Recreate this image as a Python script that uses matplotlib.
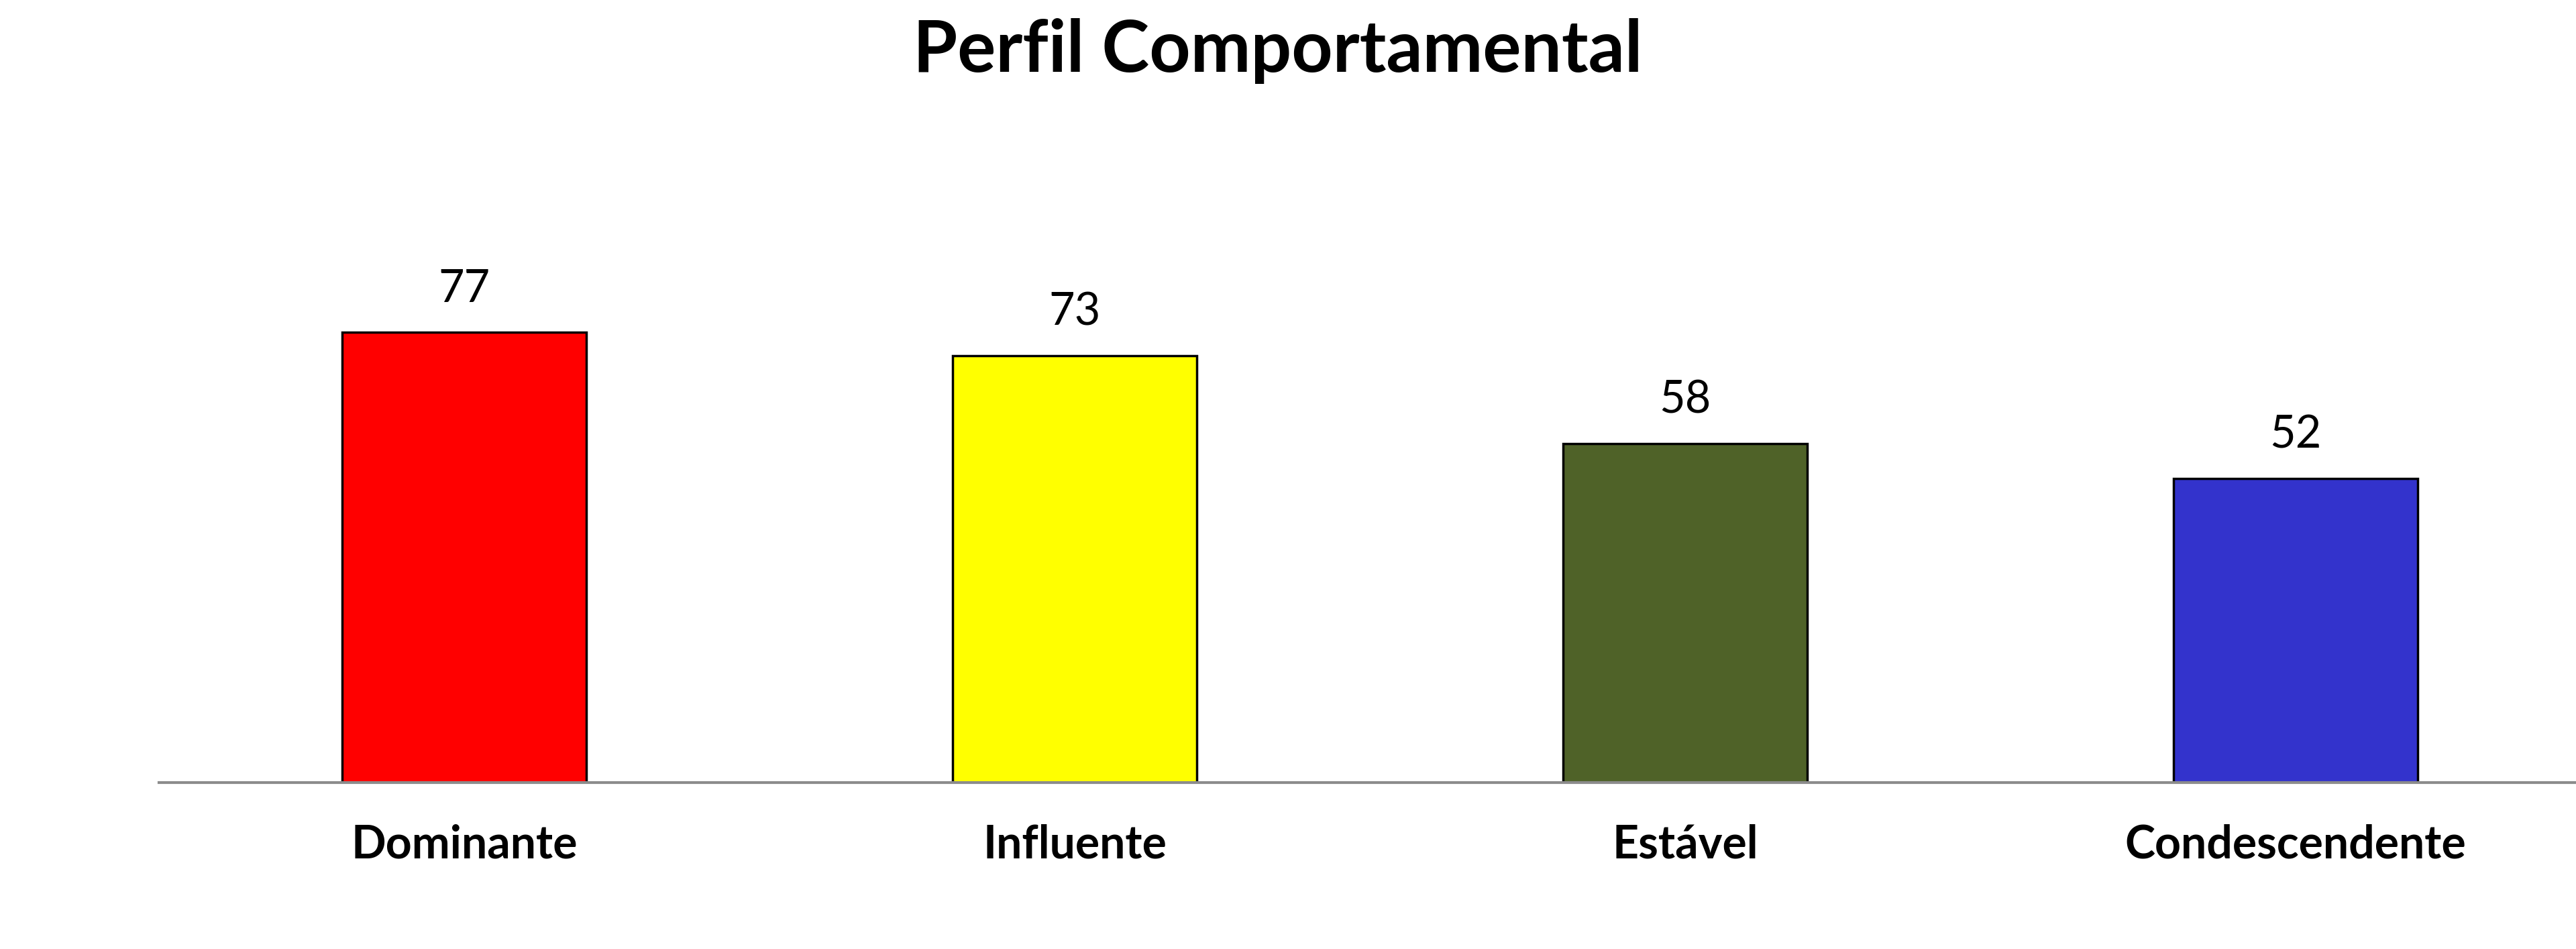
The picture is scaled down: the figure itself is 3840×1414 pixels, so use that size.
import matplotlib.pyplot as plt

categorias = ["Dominante", "Influente", "Estável", "Condescendente"]
valores = [77, 73, 58, 52]
cores = ["#FF0000", "#FFFF00", "#4F6228", "#3333CC"]

plt.rcParams['font.family'] = ['Lato', 'DejaVu Sans']

fig = plt.figure(figsize=(38.4, 14.14), dpi=100)
ax = fig.add_axes([0.0617, 0.1754, 0.948, 0.616])

x = range(len(categorias))
barras = ax.bar(x, valores, width=0.4, color=cores, edgecolor='black', linewidth=2.5)

# valor acima de cada barra
for b, v in zip(barras, valores):
    ax.annotate(str(v), (b.get_x() + b.get_width() / 2, v),
                xytext=(0, 24), textcoords='offset points',
                ha='center', va='bottom', fontsize=48, color='black')

ax.set_xlim(-0.5, len(categorias) - 0.5)
ax.set_ylim(0, 100)
ax.set_xticks(list(x))
ax.set_xticklabels(categorias, fontsize=49, fontweight='bold')
ax.tick_params(axis='x', length=0, pad=44)
ax.set_yticks([])

for s in ['top', 'right', 'left']:
    ax.spines[s].set_visible(False)
ax.spines['bottom'].set_color('#8C8C8C')
ax.spines['bottom'].set_linewidth(3)

fig.text(0.496, 0.946, "Perfil Comportamental", ha='center', va='center',
         fontsize=77, fontweight='bold')

fig.savefig("out.png", dpi=100, facecolor='white')
